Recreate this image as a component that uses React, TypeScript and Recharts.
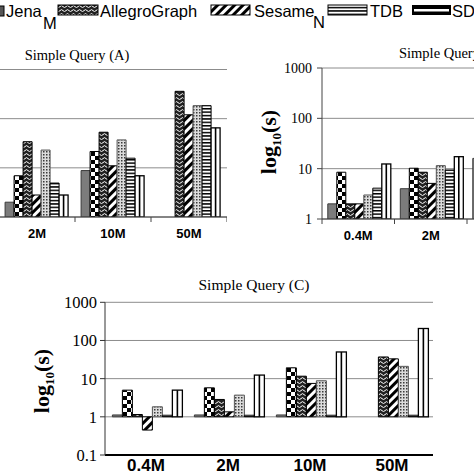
import React from 'react';
import { BarChart, Bar, XAxis, YAxis, CartesianGrid } from 'recharts';

const categories = ['0.4M', '2M', '10M', '50M'];
const seriesNames = ['Sesame_M', 'Jena_M', 'AllegroGraph', 'Sesame_N', 'Jena_N', 'TDB', 'SDB'];

// Simple Query (A) – the 0.4M group is outside the visible crop
const aSesameM = [null, 2.0, 8.8, null];
const aJenaM = [null, 6.9, 21.5, null];
const aAllegro = [null, 34, 53, 360];
const aSesameN = [null, 2.8, 11, 120];
const aJenaN = [null, 23, 37, 184];
const aTDB = [null, 4.9, 15.7, 184];
const aSDB = [null, 2.8, 6.9, 65];

// Simple Query (B) – only the first groups are visible
const bSesameM = [2, 4, 16, null];
const bJenaM = [8.5, 10.2, null, null];
const bAllegro = [2, 8.5, null, null];
const bSesameN = [2, 5.1, null, null];
const bJenaN = [3, 11.5, null, null];
const bTDB = [4.1, 9.4, null, null];
const bSDB = [12.4, 17.3, null, null];

// Simple Query (C)
const cSesameM = [1.12, 1.12, 1.12, null];
const cJenaM = [5.0, 5.75, 19.2, null];
const cAllegro = [1.15, 2.85, 11.6, 37];
const cSesameN = [0.45, 1.35, 7.5, 33];
const cJenaN = [1.83, 3.7, 8.8, 21];
const cTDB = [1.1, 1.1, 1.1, 1.1];
const cSDB = [5.0, 12.4, 50, 206];

const ticksABC = [1, 10, 100, 1000];
const ticksC = [0.1, 1, 10, 100, 1000];

const build = (arrs: (number | null)[][]) =>
  categories.map((c, i) => {
    const row: any = { cat: c };
    arrs.forEach((a, k) => {
      row['s' + k] = a[i];
    });
    return row;
  });

const dataA = build([aSesameM, aJenaM, aAllegro, aSesameN, aJenaN, aTDB, aSDB]);
const dataB = build([bSesameM, bJenaM, bAllegro, bSesameN, bJenaN, bTDB, bSDB]);
const dataC = build([cSesameM, cJenaM, cAllegro, cSesameN, cJenaN, cTDB, cSDB]);

const VerticalShape = (props: any) => {
  const { x, y, width, height } = props;
  if (!height || !width) return null;
  const top = height < 0 ? y + height : y;
  const h = Math.abs(height);
  return (
    <g>
      <rect x={x} y={top} width={width} height={h} fill="#fff" stroke="#000" strokeWidth={1.3} />
      <line x1={x + width / 2} x2={x + width / 2} y1={top} y2={top + h} stroke="#000" strokeWidth={1.6} />
    </g>
  );
};

const SERIES: { fill: string; stroke: string; shape?: any }[] = [
  { fill: '#7c7c7c', stroke: '#3a3a3a' },
  { fill: 'url(#pChecker)', stroke: '#000' },
  { fill: 'url(#pWavy)', stroke: '#000' },
  { fill: 'url(#pDiag)', stroke: '#000' },
  { fill: 'url(#pDots)', stroke: '#555' },
  { fill: 'url(#pHoriz)', stroke: '#000' },
  { fill: '#fff', stroke: '#000', shape: VerticalShape },
];

const serif = "'Liberation Serif', 'Times New Roman', serif";
const sans = "'Liberation Sans', Arial, sans-serif";

const makeTick = (n: number, fontSize: number, dy: number, showTicks: boolean) => (props: any) => {
  const { x, y, payload, index, width } = props;
  const half = payload && payload.offset ? payload.offset : width / (2 * n);
  return (
    <g>
      {showTicks && <line x1={x - half} x2={x - half} y1={y} y2={y + 5} stroke="#444" />}
      {showTicks && index === n - 1 && <line x1={x + half} x2={x + half} y1={y} y2={y + 5} stroke="#444" />}
      <text x={x} y={y + dy} textAnchor="middle" fontFamily={sans} fontWeight="bold" fontSize={fontSize} fill="#000">
        {payload.value}
      </text>
    </g>
  );
};

const renderBars = (range: boolean) =>
  SERIES.map((s, k) => (
    <Bar
      key={k}
      name={seriesNames[k]}
      dataKey={
        range
          ? (d: any) => (d['s' + k] == null ? null : [Math.min(1, d['s' + k]), Math.max(1, d['s' + k])])
          : 's' + k
      }
      fill={s.fill}
      stroke={s.stroke}
      strokeWidth={1}
      shape={s.shape}
      isAnimationActive={false}
    />
  ));

const Patterns = () => (
  <svg width={0} height={0} style={{ position: 'absolute' }}>
    <defs>
      <pattern id="pChecker" patternUnits="userSpaceOnUse" width={8} height={8}>
        <rect width={8} height={8} fill="#fff" />
        <rect width={4} height={4} fill="#000" />
        <rect x={4} y={4} width={4} height={4} fill="#000" />
      </pattern>
      <pattern id="pWavy" patternUnits="userSpaceOnUse" width={6} height={4}>
        <rect width={6} height={4} fill="#222" />
        <path d="M0 2.6 Q1.5 0.6 3 2.6 T6 2.6" stroke="#fff" strokeWidth={1} fill="none" />
      </pattern>
      <pattern id="pDiag" patternUnits="userSpaceOnUse" width={6} height={6} patternTransform="rotate(45)">
        <rect width={6} height={6} fill="#fff" />
        <rect width={3} height={6} fill="#000" />
      </pattern>
      <pattern id="pDots" patternUnits="userSpaceOnUse" width={3} height={3}>
        <rect width={3} height={3} fill="#dcdcdc" />
        <rect width={1.5} height={1.5} fill="#3a3a3a" />
      </pattern>
      <pattern id="pHoriz" patternUnits="userSpaceOnUse" width={4} height={3.4}>
        <rect width={4} height={3.4} fill="#fff" />
        <rect width={4} height={1.5} fill="#000" />
      </pattern>
    </defs>
  </svg>
);

export default function App() {
  return (
    <div
      style={{
        position: 'fixed',
        left: 0,
        top: 0,
        width: 474,
        height: 474,
        overflow: 'hidden',
        background: '#fff',
      }}
    >
      <Patterns />

      {/* Simple Query (A) */}
      <div style={{ position: 'absolute', left: -77, top: 40 }}>
        <BarChart
          width={304}
          height={207}
          data={dataA}
          margin={{ top: 29.5, right: 0, left: 0, bottom: 0 }}
          barCategoryGap="8%"
          barGap={0}
        >
          <CartesianGrid vertical={false} stroke="#8c8c8c" />
          <XAxis
            dataKey="cat"
            interval={0}
            height={30}
            tickLine={false}
            tickSize={0}
            tickMargin={0}
            axisLine={{ stroke: '#444' }}
            tick={makeTick(4, 13, 20.7, true)}
          />
          <YAxis hide scale="log" domain={[1, 1000]} ticks={ticksABC} allowDataOverflow />
          {renderBars(false)}
        </BarChart>
      </div>

      {/* Simple Query (B) */}
      <div style={{ position: 'absolute', left: 262, top: 40 }}>
        <BarChart
          width={350}
          height={209}
          data={dataB}
          margin={{ top: 28, right: 0, left: 0, bottom: 0 }}
          barCategoryGap="8%"
          barGap={0}
        >
          <CartesianGrid vertical={false} stroke="#8c8c8c" />
          <XAxis
            dataKey="cat"
            interval={0}
            height={30}
            tickLine={false}
            tickSize={0}
            tickMargin={0}
            axisLine={{ stroke: '#444' }}
            tick={makeTick(4, 13, 20.7, true)}
          />
          <YAxis
            width={60}
            scale="log"
            domain={[1, 1000]}
            ticks={ticksABC}
            allowDataOverflow
            tickSize={5}
            tickMargin={5}
            axisLine={{ stroke: '#444' }}
            tickLine={{ stroke: '#444' }}
            tick={{ fontFamily: serif, fontSize: 14, fill: '#000' }}
          />
          {renderBars(false)}
        </BarChart>
      </div>

      {/* Simple Query (C) */}
      <div style={{ position: 'absolute', left: 55, top: 280 }}>
        <BarChart
          width={378}
          height={205}
          data={dataC}
          margin={{ top: 22.3, right: 0, left: 0, bottom: 0 }}
          barCategoryGap="9%"
          barGap={0}
        >
          <CartesianGrid vertical={false} stroke="#8c8c8c" />
          <XAxis
            dataKey="cat"
            interval={0}
            height={30}
            tickLine={false}
            tickSize={0}
            tickMargin={0}
            axisLine={{ stroke: '#000', strokeWidth: 2 }}
            tick={makeTick(4, 17, 16, false)}
          />
          <YAxis
            width={50}
            scale="log"
            domain={[0.1, 1000]}
            ticks={ticksC}
            allowDataOverflow
            tickSize={5}
            tickMargin={3}
            axisLine={{ stroke: '#333' }}
            tickLine={{ stroke: '#333' }}
            tick={{ fontFamily: serif, fontSize: 16.5, fill: '#000' }}
          />
          {renderBars(true)}
        </BarChart>
      </div>

      {/* Legend, titles and axis titles */}
      <svg width={474} height={474} style={{ position: 'absolute', left: 0, top: 0, pointerEvents: 'none' }}>
        <g fontFamily={sans} fontSize={16.5} fill="#000">
          <rect x={-30} y={6} width={34} height={10} fill="#555" stroke="#000" />
          <text x={6} y={17}>Jena</text>
          <text x={43} y={29}>M</text>
          <rect x={58} y={5} width={40} height={10} fill="url(#pWavy)" stroke="#000" />
          <text x={100} y={17}>AllegroGraph</text>
          <rect x={211} y={5} width={39} height={10} fill="url(#pDiag)" stroke="#000" />
          <text x={254} y={17}>Sesame</text>
          <text x={313} y={28}>N</text>
          <rect x={328} y={5} width={39} height={10} fill="url(#pHoriz)" stroke="#000" />
          <text x={370} y={17}>TDB</text>
          <rect x={412} y={5} width={39} height={10} fill="#000" />
          <rect x={414} y={9} width={35} height={2.5} fill="#fff" />
          <text x={452} y={17}>SDB</text>
        </g>
        <g fontFamily={serif} fill="#000">
          <text x={77} y={60} fontSize={14.5} textAnchor="middle">Simple Query (A)</text>
          <text x={399} y={58} fontSize={14.5}>Simple Query (B)</text>
          <text x={254} y={290} fontSize={15.5} textAnchor="middle">Simple Query (C)</text>
          <text transform="translate(276,142) rotate(-90)" textAnchor="middle" fontWeight="bold" fontSize={22}>
            log<tspan fontSize={13} dy={5}>10</tspan>
            <tspan dy={-5}>(s)</tspan>
          </text>
          <text transform="translate(49,381) rotate(-90)" textAnchor="middle" fontWeight="bold" fontSize={22}>
            log<tspan fontSize={13} dy={5}>10</tspan>
            <tspan dy={-5}>(s)</tspan>
          </text>
        </g>
      </svg>
    </div>
  );
}
